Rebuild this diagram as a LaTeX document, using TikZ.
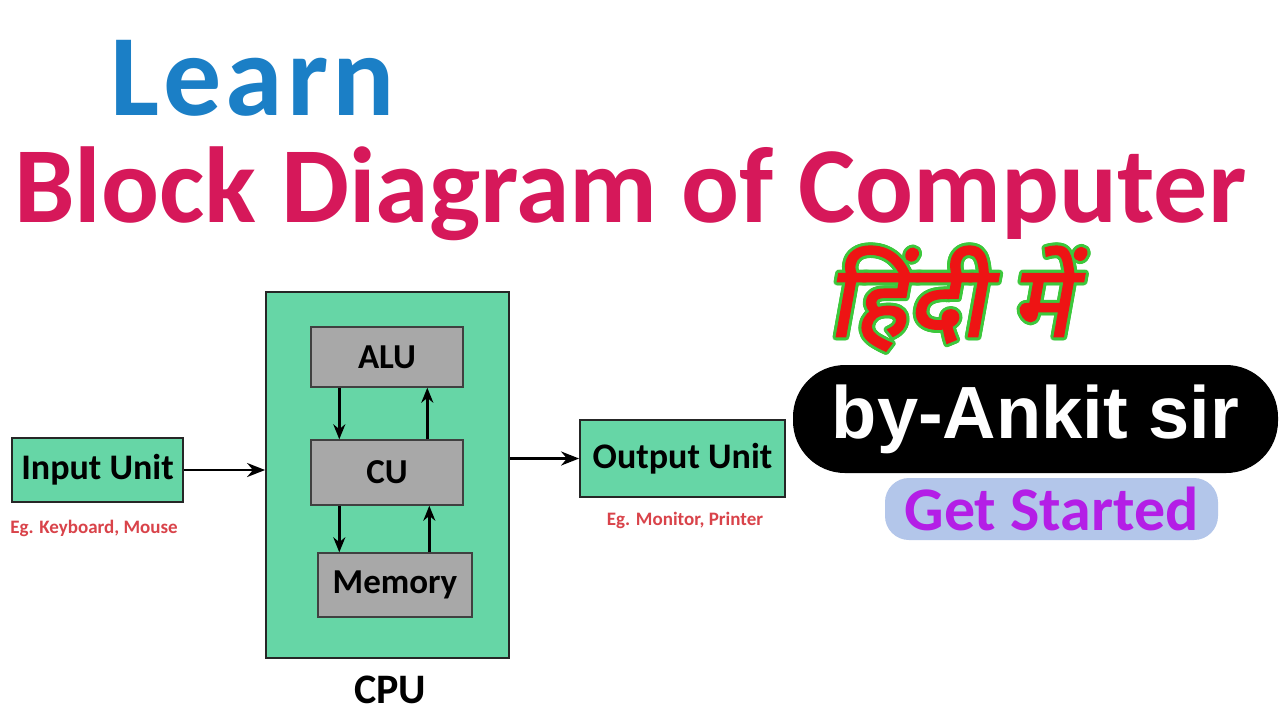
\documentclass[tikz,border=0pt]{standalone}
\usepackage{fontspec}
\usepackage{contour}
\setmainfont{Carlito}
\newfontfamily\arialfont{Liberation Sans}
\newfontfamily\hindifont[Script=Devanagari,FakeSlant=0.18,FakeBold=2.5]{Noto Sans}
\definecolor{mint}{HTML}{66D6A6}
\definecolor{blockgray}{HTML}{A8A8A8}
\definecolor{learnblue}{HTML}{1B7FC6}
\definecolor{crimson}{HTML}{D6185A}
\definecolor{egred}{HTML}{D9434A}
\definecolor{hred}{HTML}{EE1414}
\definecolor{hgreen}{HTML}{3CC83C}
\definecolor{pillblue}{HTML}{B3C6EA}
\definecolor{violet}{HTML}{B41EE6}
\usetikzlibrary{arrows.meta}
\contourlength{1.5pt}

\begin{document}
\begin{tikzpicture}[x=0.5pt,y=-0.5pt,
	unit/.style={draw=black!85, line width=0.9pt, fill=mint, inner sep=0pt, font=\bfseries\fontsize{18}{18}\selectfont},
	part/.style={draw=black!75, line width=0.7pt, fill=blockgray, inner sep=0pt, font=\bfseries\fontsize{17.5}{18}\selectfont},
	eg/.style={text=egred, font=\bfseries\fontsize{9.5}{10}\selectfont},
	arr/.style={-{Stealth[length=9pt,width=7pt]}, line width=1.3pt},
	inarr/.style={-{Stealth[length=7.5pt,width=6pt]}, line width=1.3pt}]
	\useasboundingbox[fill=white] (0,0) rectangle (1280,720);
	%titles
	\node[anchor=base west, inner sep=0pt, text=learnblue, font=\bfseries\fontsize{58}{58}\selectfont] (learn) at (110,115) {L\kern2pt e\kern2pt a\kern2pt r\kern2pt n};
	\node[anchor=base west, inner sep=0pt, text=crimson, font=\bfseries\fontsize{54}{54}\selectfont] (title) at (14,222) {Block Diagram of Computer};
	\node[inner sep=0pt, font=\hindifont\bfseries\fontsize{50}{50}\selectfont] (hindi) at (950,300) {\contour{hgreen}{\textcolor{hred}{हिंदी में}}};
	\node[fill=black, text=white, rounded corners=26pt, minimum width=242.5pt, minimum height=54pt, inner sep=0pt, font=\arialfont\bfseries\fontsize{37}{37}\selectfont] (ankit) at (1035.5,419) {by-Ankit sir\hspace{10pt}};
	\node[fill=pillblue, text=violet, rounded corners=12pt, minimum width=166.5pt, minimum height=31pt, inner sep=0pt, font=\bfseries\fontsize{31}{31}\selectfont] (start) at (1051.5,509) {Get Started};
	%blocks
	\node[unit, minimum width=85.5pt, minimum height=32pt] (input) at (97.5,470) {Input Unit};
	\node[unit, minimum width=121.5pt, minimum height=183pt] (cpu) at (387.5,475) {};
	\node[part, minimum width=76pt, minimum height=30pt] (alu) at (387,357) {ALU};
	\node[part, minimum width=76pt, minimum height=32.5pt] (cu) at (387,472.5) {CU};
	\node[part, minimum width=77pt, minimum height=32pt] (mem) at (395,585) {Memory};
	\node[unit, minimum width=102.5pt, minimum height=38.5pt] (out) at (682.5,458.5) {Output Unit};
	\node[eg] (eg1) at (94,528) {Eg. Keyboard, Mouse};
	\node[eg] (eg2) at (685,520) {Eg. Monitor, Printer};
	\node[font=\bfseries\fontsize{21}{21}\selectfont] (cpulabel) at (390,690) {CPU};
	%arrows
	\draw[arr] (input.east) -- (input.east -| cpu.west);
	\draw[arr] (out.west -| cpu.east) -- (out.west);
	\draw[inarr] ([xshift=14.5pt]alu.south west) -- ([xshift=14.5pt]cu.north west);
	\draw[inarr] ([xshift=58.5pt]cu.north west) -- ([xshift=58.5pt]alu.south west);
	\draw[inarr] ([xshift=14.5pt]cu.south west) -- ([xshift=14.5pt]cu.south west |- mem.north);
	\draw[inarr] ([xshift=59.5pt]cu.south west |- mem.north) -- ([xshift=59.5pt]cu.south west);
\end{tikzpicture}
\end{document}
